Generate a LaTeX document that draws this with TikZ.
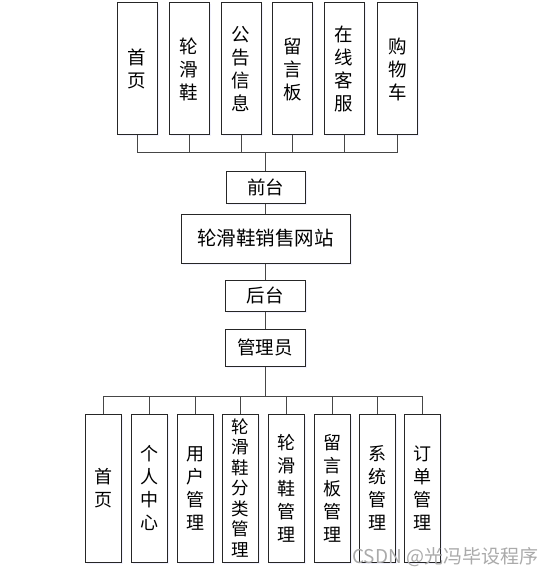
\documentclass[tikz,border=0pt]{standalone}
\usepackage{fontspec}
\newfontfamily\cjk{Noto Sans CJK SC}
\definecolor{linegray}{RGB}{70,70,70}
\definecolor{markgray}{RGB}{170,170,170}
\usepackage{tikz}
\usetikzlibrary{positioning, shadows}

\begin{document}
\begin{tikzpicture}[
  x=1pt, y=-1pt,
  box/.style={draw=black!85, line width=1pt, fill=white, inner sep=0pt,
    align=center, font=\cjk\fontsize{18.5}{23}\selectfont,
    drop shadow={shadow xshift=1.5pt, shadow yshift=-1.5pt, opacity=0.25, fill=blue!20}},
  tallbox/.style={box, minimum width=40pt, minimum height=132pt},
  lowbox/.style={box, minimum width=36pt, minimum height=148pt,
    font=\cjk\fontsize{18}{23}\selectfont},
  link/.style={draw=linegray, line width=1pt},
]
\useasboundingbox (0,0) rectangle (559,577);

% Front-end pages
\node[tallbox] (home)   at (137,69)   {首\\页};
\node[tallbox] (shoe)   at (189,69)   {轮\\滑\\鞋};
\node[tallbox] (notice) at (241,69)   {公\\告\\信\\息};
\node[tallbox] (msg)    at (292.5,69) {留\\言\\板};
\node[tallbox] (serv)   at (344,69)   {在\\线\\客\\服};
\node[tallbox] (cart)   at (397.5,69) {购\\物\\车};

% Middle column
\node[box, minimum width=79pt, minimum height=31pt] (front) at (265.5,187.5) {前台};
\node[box, minimum width=169pt, minimum height=49pt,
  font=\cjk\fontsize{19.5}{23}\selectfont] (site) at (265.5,238.5) {轮滑鞋销售网站};
\node[box, minimum width=80pt, minimum height=31pt] (back) at (265,295.5) {后台};
\node[box, minimum width=80pt, minimum height=37pt] (admin) at (265,347.5) {管理员};

% Back-end modules
\node[lowbox] (ahome)  at (103,488)   {首\\页};
\node[lowbox] (self)   at (149,488)   {个\\人\\中\\心};
\node[lowbox] (user)   at (195,488)   {用\\户\\管\\理};
\node[lowbox, font=\cjk\fontsize{17.5}{20.5}\selectfont]
  (cat)    at (240.5,488) {轮\\滑\\鞋\\分\\类\\管\\理};
\node[lowbox] (shoem)  at (286,488)   {轮\\滑\\鞋\\管\\理};
\node[lowbox] (msgm)   at (332,488)   {留\\言\\板\\管\\理};
\node[lowbox] (sys)    at (377.5,488) {系\\统\\管\\理};
\node[lowbox] (order)  at (422.5,488) {订\\单\\管\\理};

% Bus points
\coordinate (topbus) at (265.5,153);
\coordinate (lowbus) at (265,396);

% Connectors
\foreach \n in {home, shoe, notice, msg, serv, cart}
  \draw[link] (\n.south) |- (topbus);
\draw[link] (topbus) -- (front.north);
\draw[link] (front.south) -- (site.north -| front.south);
\draw[link] (site.south -| back.north) -- (back.north);
\draw[link] (back.south) -- (admin.north);
\draw[link] (admin.south) -- (lowbus);
\foreach \n in {ahome, self, user, cat, shoem, msgm, sys, order}
  \draw[link] (lowbus) -| (\n.north);

% Watermark
\node[anchor=west, inner sep=0pt, text=markgray, font=\cjk\fontsize{19}{19}\selectfont]
  (mark) at (352,557) {CSDN @光冯毕设程序};
\end{tikzpicture}
\end{document}
